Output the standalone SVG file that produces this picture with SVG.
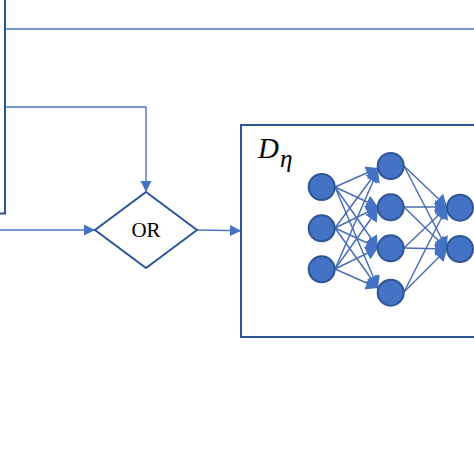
<svg xmlns="http://www.w3.org/2000/svg" width="474" height="474" viewBox="0 0 474 474">
<style>
.box{fill:none;stroke:#2f5597;stroke-width:2}
.dia{fill:#fff;stroke:#2f5597;stroke-width:2}
.c{fill:none;stroke:#4a76c4;stroke-width:1.4}
.n{fill:none;stroke:#4a6fb5;stroke-width:1.5}
.dot{fill:#4472c4;stroke:#2f5597;stroke-width:2}
.t{font-family:"Liberation Serif",serif;fill:#000}
</style>
<defs>
<marker id="a" markerUnits="userSpaceOnUse" markerWidth="12" markerHeight="12" refX="11" refY="6" orient="auto"><path d="M0 0.500 L11 6 L0 11.500Z" fill="#4472c4"/></marker>
<marker id="b" markerUnits="userSpaceOnUse" markerWidth="13" markerHeight="14" refX="12" refY="7" orient="auto"><path d="M0 0 L12 7 L0 14Z" fill="#4472c4"/></marker>
</defs>
<g id="connectors">
<path class="c" d="M6 29H474"/>
<path class="c" d="M6 107H146V192" marker-end="url(#a)"/>
<path class="c" d="M0 230H95" marker-end="url(#a)"/>
<path class="c" d="M197 230L241 230.700" marker-end="url(#a)"/>
</g>
<g id="source-box"><path class="box" d="M5 0V213.500H0"/></g>
<g id="or-node"><path class="dia" d="M146 192L197 230L146 268L95 230Z"/><text class="t" x="146" y="237" font-size="21" text-anchor="middle">OR</text></g>
<g id="d-box">
<path class="box" d="M474 125H241V337H474"/>
<text class="t" x="258" y="158" font-size="29" font-style="italic">D</text>
<text class="t" x="280" y="167" font-size="25" font-style="italic">η</text>
</g>
<g id="network">
<g id="edges">
<path class="n" marker-end="url(#b)" d="M335 187L378 168"/><path class="n" marker-end="url(#b)" d="M335 187L378 207"/><path class="n" marker-end="url(#b)" d="M335 187L378 248"/><path class="n" marker-end="url(#b)" d="M335 187L378 288"/>
<path class="n" marker-end="url(#b)" d="M335 228L378 170"/><path class="n" marker-end="url(#b)" d="M335 228L378 207"/><path class="n" marker-end="url(#b)" d="M335 228L378 248"/><path class="n" marker-end="url(#b)" d="M335 228L378 288"/>
<path class="n" marker-end="url(#b)" d="M335 269L378 170"/><path class="n" marker-end="url(#b)" d="M335 269L378 209"/><path class="n" marker-end="url(#b)" d="M335 269L378 248"/><path class="n" marker-end="url(#b)" d="M335 269L378 288"/>
<path class="n" marker-end="url(#b)" d="M404 166L447 207"/><path class="n" marker-end="url(#b)" d="M404 166L447 249"/>
<path class="n" marker-end="url(#b)" d="M404 207L447 207"/><path class="n" marker-end="url(#b)" d="M404 207L447 249"/>
<path class="n" marker-end="url(#b)" d="M404 248L447 207"/><path class="n" marker-end="url(#b)" d="M404 248L447 249"/>
<path class="n" marker-end="url(#b)" d="M404 292L447 207"/><path class="n" marker-end="url(#b)" d="M404 292L447 249"/>
</g>
<g id="input-1"><circle class="dot" cx="321.700" cy="187" r="13"/></g>
<g id="input-2"><circle class="dot" cx="321.700" cy="228.300" r="13"/></g>
<g id="input-3"><circle class="dot" cx="321.700" cy="269.300" r="13"/></g>
<g id="hidden-1"><circle class="dot" cx="390.700" cy="166" r="13"/></g>
<g id="hidden-2"><circle class="dot" cx="390.700" cy="207.300" r="13"/></g>
<g id="hidden-3"><circle class="dot" cx="390.700" cy="248.300" r="13"/></g>
<g id="hidden-4"><circle class="dot" cx="390.700" cy="292.700" r="13"/></g>
<g id="output-1"><circle class="dot" cx="460" cy="207.700" r="13"/></g>
<g id="output-2"><circle class="dot" cx="460" cy="249" r="13"/></g>
</g>
</svg>
